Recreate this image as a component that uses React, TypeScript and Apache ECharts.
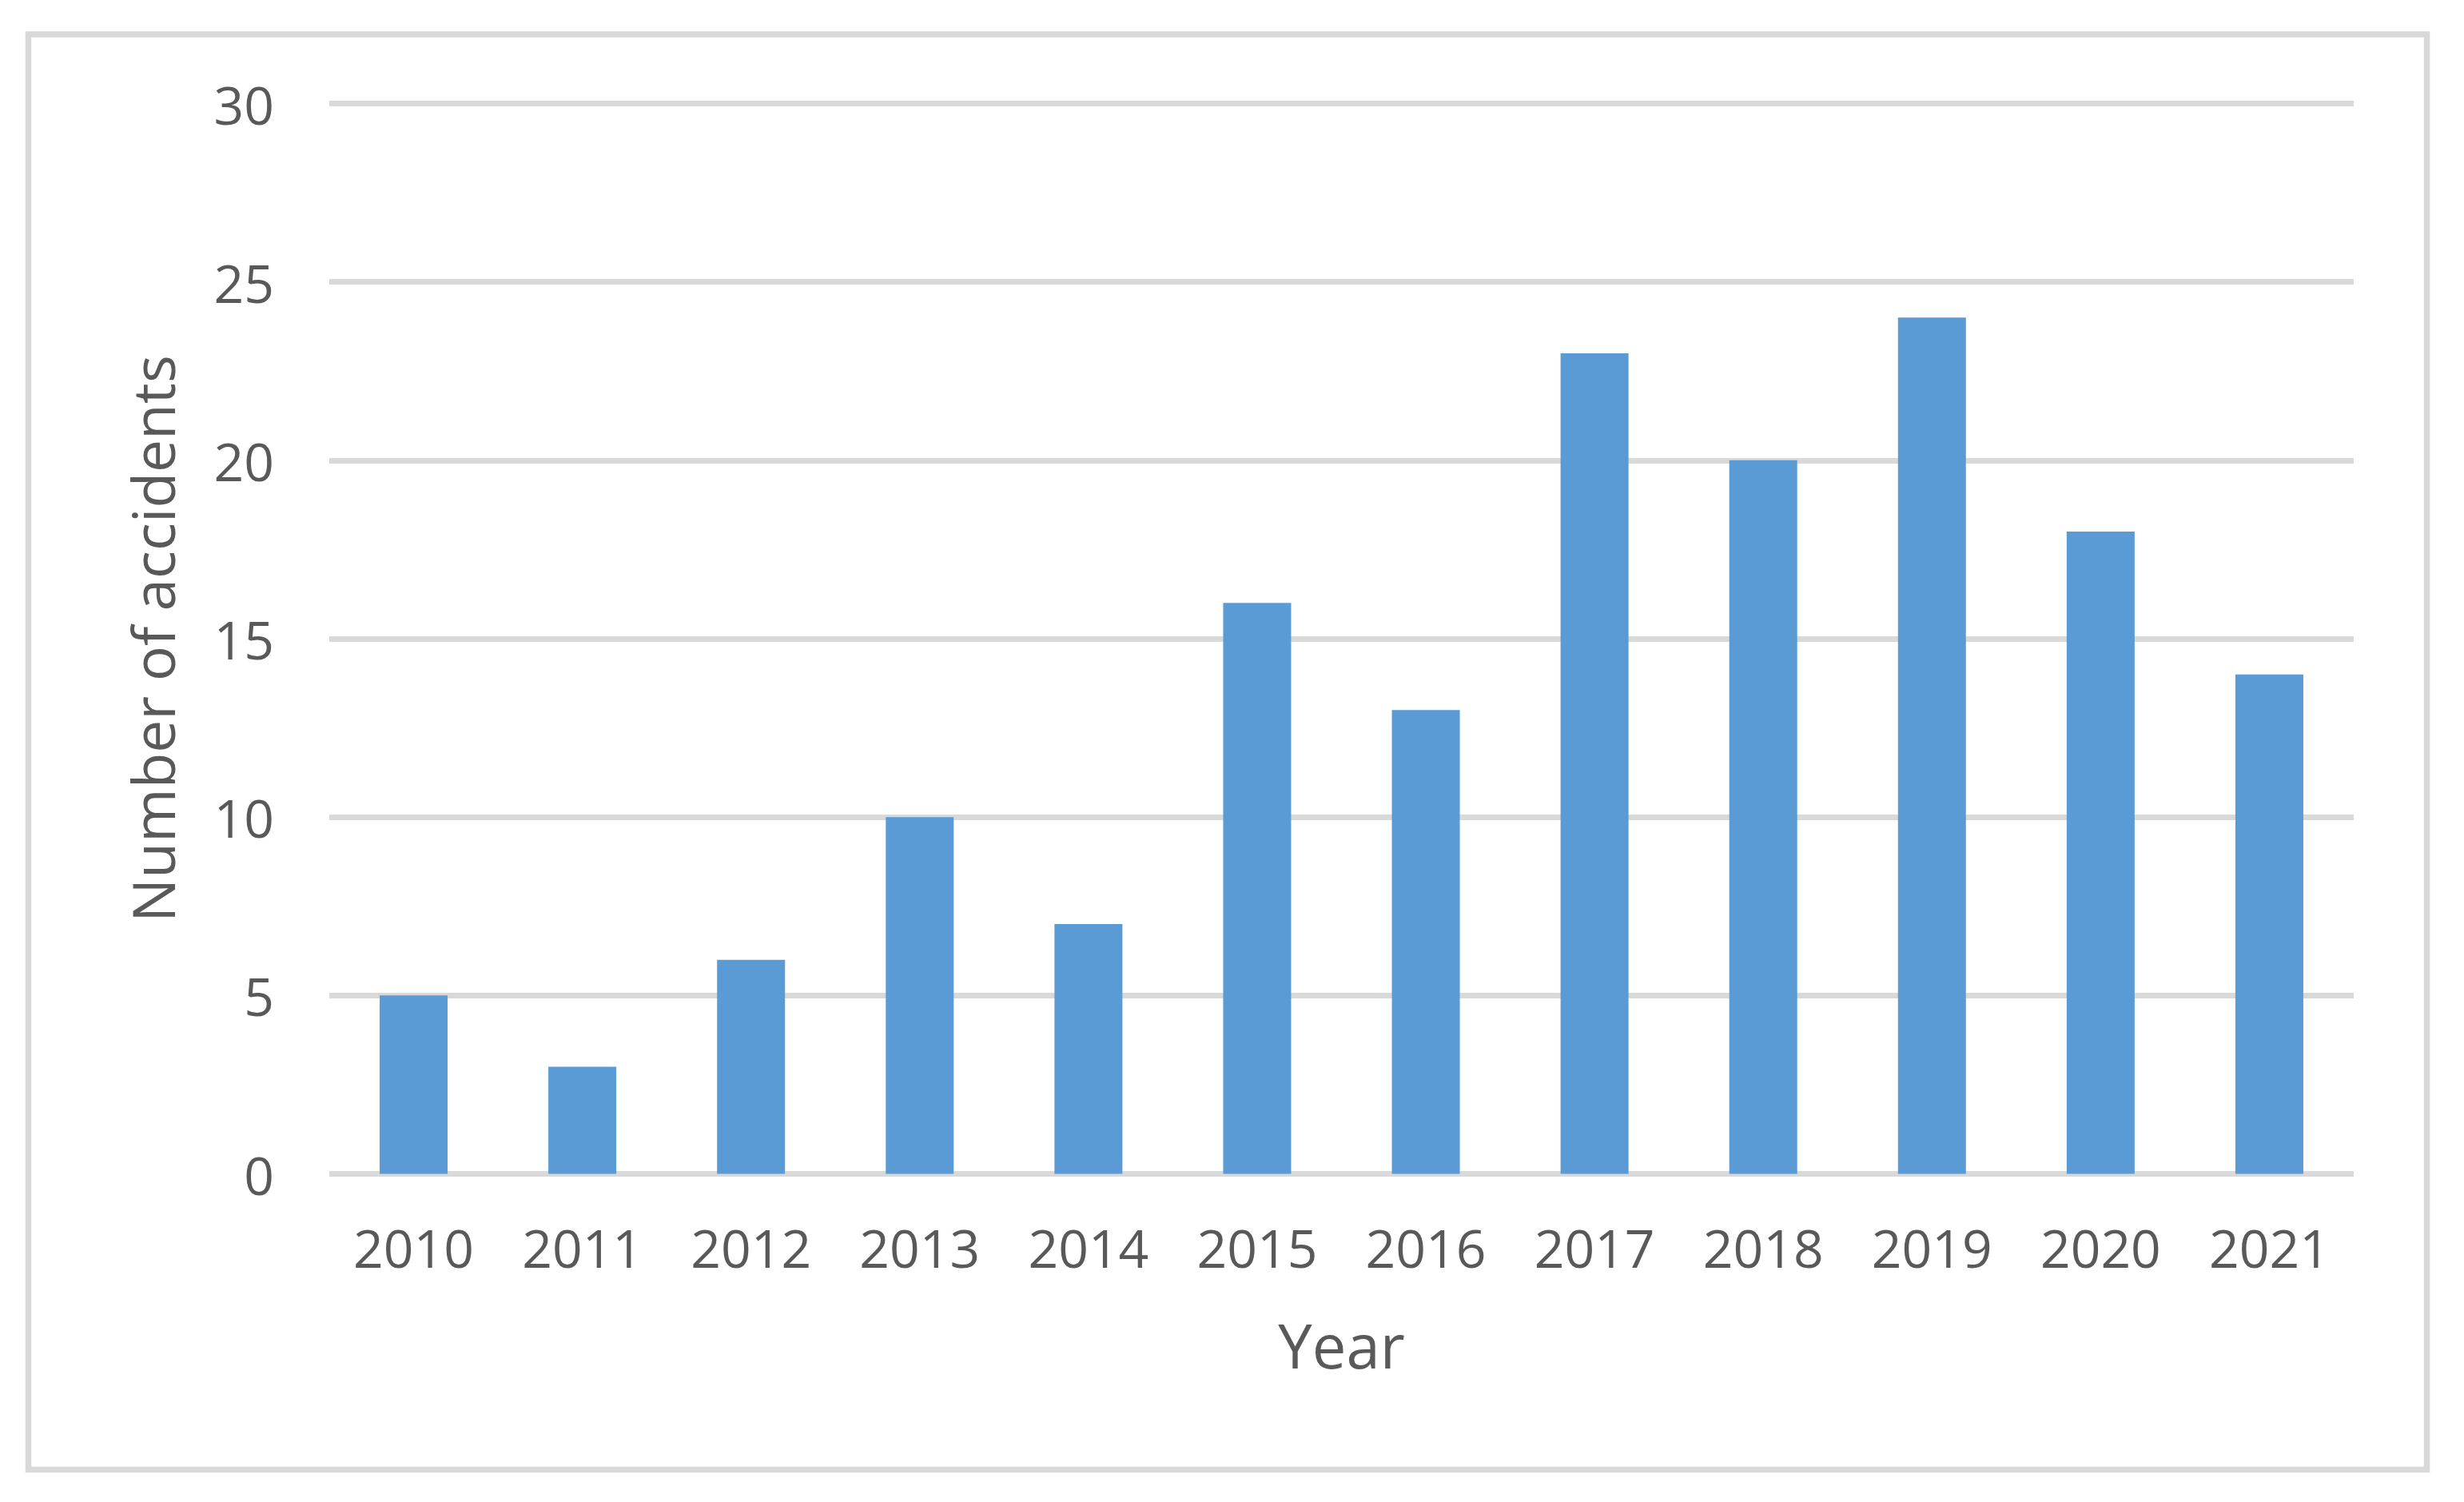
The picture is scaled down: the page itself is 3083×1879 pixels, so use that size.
import React, { useEffect, useRef } from "react";
import * as echarts from "echarts";

const years = ["2010", "2011", "2012", "2013", "2014", "2015", "2016", "2017", "2018", "2019", "2020", "2021"];
const accidents = [5, 3, 6, 10, 7, 16, 13, 23, 20, 24, 18, 14];
const yMin = 0;
const yMax = 30;
const yStep = 5;
const xTitle = "Year";
const yTitle = "Number of accidents";

const FONT = "'Open Sans', 'Noto Sans', sans-serif";
const TEXT = "#595959";
const GRID = "#D9D9D9";
const BAR = "#5B9BD5";

export default function App() {
  const ref = useRef<HTMLDivElement>(null);
  useEffect(() => {
    if (!ref.current) return;
    const chart = echarts.init(ref.current, undefined, { renderer: "svg" });
    chart.setOption({
      animation: false,
      backgroundColor: "#ffffff",
      textStyle: { fontFamily: FONT },
      graphic: [
        {
          type: "rect",
          shape: { x: 35.5, y: 43, width: 3001, height: 1795.5 },
          style: { fill: "none", stroke: GRID, lineWidth: 7.5 },
          silent: true,
        },
      ],
      grid: { left: 412, right: 138, top: 129.5, bottom: 410.5, containLabel: false },
      xAxis: {
        type: "category",
        data: years,
        axisLine: { show: false },
        axisTick: { show: false },
        axisLabel: {
          color: TEXT,
          fontSize: 66,
          lineHeight: 66,
          fontFamily: FONT,
          margin: 58,
        },
        name: xTitle,
        nameLocation: "middle",
        nameGap: 176,
        nameTextStyle: { color: TEXT, fontSize: 76, lineHeight: 76, fontFamily: FONT },
      },
      yAxis: {
        type: "value",
        min: yMin,
        max: yMax,
        interval: yStep,
        axisLine: { show: false },
        axisTick: { show: false },
        splitLine: { show: true, lineStyle: { color: GRID, width: 7 } },
        axisLabel: {
          color: TEXT,
          fontSize: 66,
          lineHeight: 66,
          fontFamily: FONT,
          margin: 69,
        },
        name: yTitle,
        nameLocation: "middle",
        nameRotate: 90,
        nameGap: 185,
        nameTextStyle: { color: TEXT, fontSize: 73, lineHeight: 73, fontFamily: FONT },
      },
      series: [
        {
          type: "bar",
          data: accidents,
          barWidth: 85,
          itemStyle: { color: BAR },
        },
      ],
    });
    return () => chart.dispose();
  }, []);
  return (
    <div
      ref={ref}
      style={{ position: "absolute", left: 0, top: 0, width: 3083, height: 1879 }}
    />
  );
}
